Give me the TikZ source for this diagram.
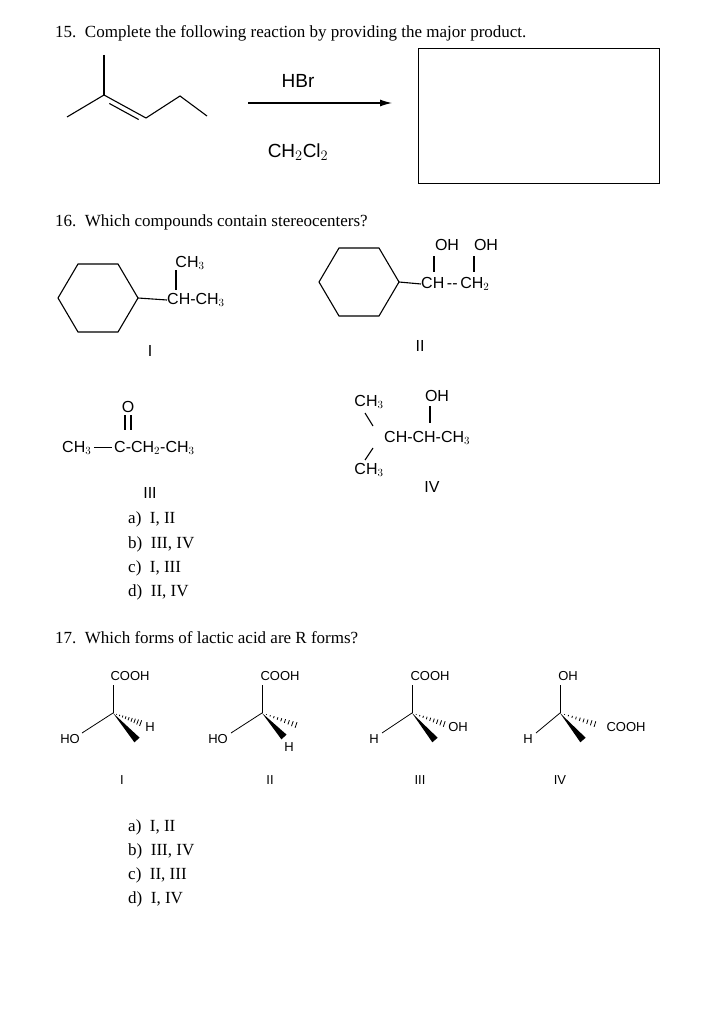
\documentclass[tikz,border=0pt]{standalone}
\usepackage{fontspec}
\setmainfont{Liberation Serif}
\newfontfamily\chem{Liberation Sans}
\usetikzlibrary{calc,arrows.meta}
\tikzset{
 q/.style={font=\fontsize{17}{20}\selectfont,anchor=west,inner sep=0},
 ch/.style={font=\chem\fontsize{16}{18}\selectfont,inner sep=0},
 bd/.style={line width=1.1pt},
}
\newcommand\hashb[2]{\foreach \t in {0.12,0.22,...,1.0}{\draw[line width=0.8pt] ($($(#1)!\t!(#2)$)!3.2*\t pt!90:(#2)$) -- ($($(#1)!\t!(#2)$)!3.2*\t pt!-90:(#2)$);}}
\newcommand\wedgeb[2]{\fill ($(#2)!3.5pt!90:(#1)$) -- (#1) -- ($(#2)!3.5pt!-90:(#1)$) -- cycle;}
\begin{document}
\begin{tikzpicture}[x=1pt,y=-1pt]
\useasboundingbox (0,0) rectangle (705,1024);
\fill[white] (0,0) rectangle (705,1024);
% Q15
\node[q] (q15) at (55,33) {15.\ \ Complete the following reaction by providing the major product.};
\coordinate (a1) at (67,117); \coordinate (a2) at (104,95); \coordinate (a0) at (104,55);
\coordinate (a3) at (146,118); \coordinate (a4) at (180,96); \coordinate (a5) at (207,116);
\draw[bd] (a1)--(a2)--(a3)--(a4)--(a5); \draw[bd] (a0)--(a2);
\draw[bd] ($(a2)!0.15!(a3)+(-1,5)$) -- ($(a2)!0.85!(a3)+(-1,5)$);
\coordinate (ar1) at (248,103); \coordinate (ar2) at (392,103);
\draw[bd,-{Latex[length=12pt,width=7pt]}] (ar1) -- (ar2);
\node[ch,font=\chem\fontsize{19}{21}\selectfont] (hbr) at (298,81) {HBr};
\node[ch,font=\chem\fontsize{19}{21}\selectfont] (dcm) at (298,152) {CH$_2$Cl$_2$};
\node[draw,line width=1pt,minimum width=241pt,minimum height=135pt,anchor=north west] (box) at (418,48) {};
% Q16
\node[q] (q16) at (55,222) {16.\ \ Which compounds contain stereocenters?};
\draw[bd] (58,298) -- ++(20,-34) -- ++(40,0) -- ++(20,34) -- ++(-20,34) -- ++(-40,0) -- cycle;
\coordinate (r1) at (138,298); \node[ch,anchor=west] (i1) at (167,300) {CH-CH$_3$};
\draw[bd] (r1) -- (i1.west);
\node[ch] (i2) at (190,263) {CH$_3$};
\draw[bd] (176,270) -- (176,290);
\node[ch] (l1) at (150,351) {I};
\draw[bd] (319,282) -- ++(20,-34) -- ++(40,0) -- ++(20,34) -- ++(-20,34) -- ++(-40,0) -- cycle;
\coordinate (r2) at (399,282); \node[ch,anchor=west] (ii1) at (421,284) {CH\,--\,CH$_2$};
\draw[bd] (r2) -- (ii1.west);
\node[ch] (ii2) at (447,245) {OH}; \node[ch] (ii3) at (486,245) {OH};
\draw[bd] (434,256) -- (434,272); \draw[bd] (474,256) -- (474,272);
\node[ch] (l2) at (420,346) {II};
\node[ch] (o3) at (128,407) {O};
\draw[bd] (125,415)--(125,430); \draw[bd] (131,415)--(131,430);
\node[ch,anchor=west] (iii) at (62,448) {CH$_3$\,\rule[0.3em]{1.1em}{0.8pt}\,C-CH$_2$-CH$_3$};
\node[ch] (l3) at (150,493) {III};
\node[ch] (iv1) at (369,402) {CH$_3$}; \node[ch] (iv2) at (437,396) {OH};
\draw[bd] (430,406) -- (430,423);
\node[ch,anchor=west] (iv3) at (384,438) {CH-CH-CH$_3$};
\node[ch] (iv4) at (369,470) {CH$_3$};
\draw[bd] (365,413)--(373,426); \draw[bd] (373,448)--(365,460);
\node[ch] (l4) at (432,487) {IV};
\foreach \y/\t in {519/{a)\ \ I, II},544/{b)\ \ III, IV},568/{c)\ \ I, III},592/{d)\ \ II, IV}}
 \node[q] at (128,\y) {\t};
% Q17
\node[q] (q17) at (55,638) {17.\ \ Which forms of lactic acid are R forms?};
\tikzset{lb/.style={ch,font=\chem\fontsize{13}{15}\selectfont}}
% I
\node[lb] (c1) at (130,676) {COOH}; \coordinate (k1) at (113,713);
\draw[line width=0.8pt] (113,685) -- (k1); \node[lb] (h1) at (70,739) {HO};
\draw[line width=0.8pt] (k1) -- (82,733);
\coordinate (e1) at (143,724); \hashb{k1}{e1} \node[lb] (hh1) at (150,727) {H};
\coordinate (w1) at (137,740); \wedgeb{k1}{w1}
% II
\node[lb] (c2) at (280,676) {COOH}; \coordinate (k2) at (262,713);
\draw[line width=0.8pt] (262,685) -- (k2); \node[lb] (h2) at (218,739) {HO};
\draw[line width=0.8pt] (k2) -- (231,733);
\coordinate (e2) at (299,726); \hashb{k2}{e2}
\coordinate (w2) at (284,737); \wedgeb{k2}{w2} \node[lb] (hh2) at (289,747) {H};
% III
\node[lb] (c3) at (430,676) {COOH}; \coordinate (k3) at (412,713);
\draw[line width=0.8pt] (412,685) -- (k3); \node[lb] (h3) at (374,739) {H};
\draw[line width=0.8pt] (k3) -- (382,733);
\coordinate (e3) at (447,725); \hashb{k3}{e3} \node[lb] (oh3) at (458,727) {OH};
\coordinate (w3) at (435,740); \wedgeb{k3}{w3}
% IV
\node[lb] (c4) at (568,676) {OH}; \coordinate (k4) at (560,713);
\draw[line width=0.8pt] (560,685) -- (k4); \node[lb] (h4) at (528,739) {H};
\draw[line width=0.8pt] (k4) -- (536,733);
\coordinate (e4) at (598,725); \hashb{k4}{e4} \node[lb] (co4) at (626,727) {COOH};
\coordinate (w4) at (583,740); \wedgeb{k4}{w4}
\foreach \x/\t in {122/I,270/II,420/III,560/IV} \node[lb] at (\x,780) {\t};
\foreach \y/\t in {827/{a)\ \ I, II},851/{b)\ \ III, IV},875/{c)\ \ II, III},899/{d)\ \ I, IV}}
 \node[q] at (128,\y) {\t};
\end{tikzpicture}
\end{document}
